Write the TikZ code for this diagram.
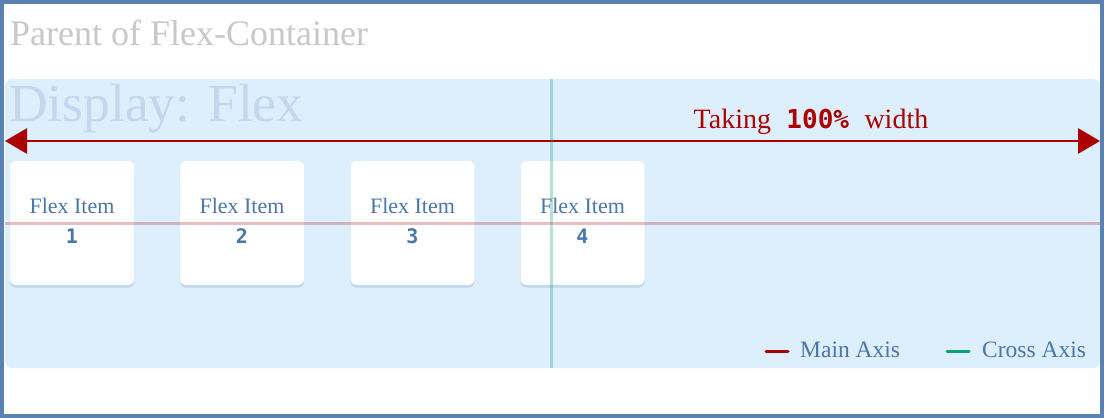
\documentclass[tikz,border=0pt]{standalone}
\usepackage{fontspec}
\setmainfont{Liberation Serif}
\newfontfamily\codefont{DejaVu Sans Mono}
\usetikzlibrary{arrows.meta,shadows}
\definecolor{frameblue}{HTML}{5A82B0}
\definecolor{flexbg}{HTML}{DDEEFD}
\definecolor{parentgray}{HTML}{C8C8C8}
\definecolor{displayblue}{HTML}{C3D7EE}
\definecolor{axisred}{HTML}{AA0000}
\definecolor{axisgreen}{HTML}{10A070}
\definecolor{itemblue}{HTML}{4A76A8}
\tikzset{
  item/.style={fill=white,rounded corners=6pt,minimum width=124pt,minimum height=124pt,
    drop shadow={shadow xshift=0pt,shadow yshift=-2.5pt,opacity=0.2,fill=itemblue}},
  itemtext/.style={anchor=base,inner sep=0pt,text=itemblue,font=\fontsize{22}{22}\selectfont},
  itemnum/.style={anchor=base,inner sep=0pt,text=itemblue,font=\codefont\bfseries\fontsize{20}{20}\selectfont},
  legendtext/.style={anchor=base west,inner sep=0pt,text=itemblue,font=\fontsize{23.5}{23.5}\selectfont},
  legendbar/.style={line width=3pt,line cap=round}
}
\begin{document}
\begin{tikzpicture}[x=1pt,y=-1pt]
%\draw[help lines] (0,0)grid(1104,418);
\useasboundingbox (0,0) rectangle (1104,418);
\fill[white] (0,0) rectangle (1104,418);
\draw (5,79)coordinate(a)
      (1100,368)coordinate(b)
      (5,141)coordinate(c)
      (1100,141)coordinate(d)
      (5,223)coordinate(e)
      (1100,223)coordinate(f)
      (551,79)coordinate(g)
      (551,368)coordinate(h);
\fill[flexbg,rounded corners=7pt](a)rectangle(b);
\node[anchor=base west,inner sep=0pt,text=parentgray,font=\fontsize{36}{36}\selectfont] (parent) at (10,45) {Parent of Flex-Container};
\node[anchor=base west,inner sep=0pt,text=displayblue,font=\fontsize{53.5}{53.5}\selectfont] (display) at (9,121) {Display: Flex};
\draw[axisred,line width=2.8pt,{Triangle[length=22pt,width=25pt]}-{Triangle[length=22pt,width=25pt]}](c)--(d);
\node[anchor=base,inner sep=0pt,text=axisred,font=\fontsize{28}{28}\selectfont] (taking) at (811,128) {Taking\hspace{0.55em}{\codefont\bfseries\fontsize{26}{26}\selectfont 100\%}\hspace{0.55em}width};
\foreach \i/\x in {1/72,2/242,3/412.5,4/582.5}{
  \node[item] (item\i) at (\x,223) {};
  \node[itemtext] (label\i) at (\x,213) {Flex Item};
  \node[itemnum] (num\i) at (\x,243) {\i};
}
\draw[axisred,opacity=0.25,line width=3pt](e)--(f);
\draw[axisgreen,opacity=0.3,line width=3pt](g)--(h);
\draw[axisred,legendbar](766,351)--(788,351);
\node[legendtext] (main) at (800,357) {Main Axis};
\draw[axisgreen,legendbar](947,351)--(969,351);
\node[legendtext] (cross) at (982,357) {Cross Axis};
\draw[frameblue,line width=4pt] (2,2) rectangle (1102,416);
\end{tikzpicture}
\end{document}
